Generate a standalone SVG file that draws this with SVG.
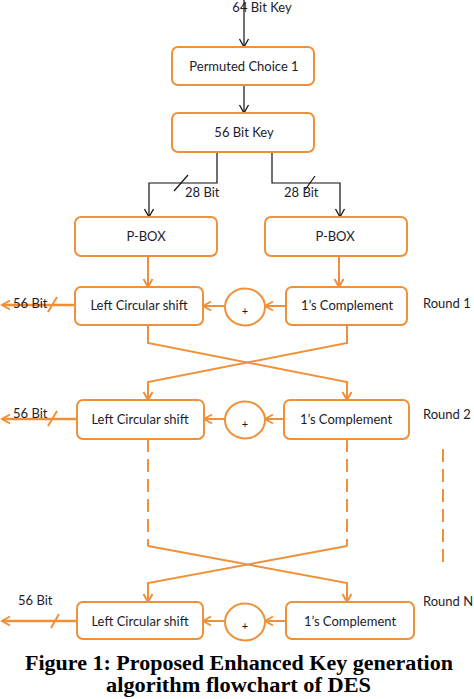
<svg xmlns="http://www.w3.org/2000/svg" width="474" height="699" viewBox="0 0 474 699">
<style>
.box{fill:#fff;stroke:#F0913A;stroke-width:2}
.lbl{font-family:Lato,"Open Sans","DejaVu Sans",sans-serif;font-size:13px;fill:#1c1c2a;text-anchor:middle;dominant-baseline:central}
.side{font-family:Lato,"Open Sans","DejaVu Sans",sans-serif;font-size:13px;fill:#1c1c2a;dominant-baseline:central}
.blk{fill:none;stroke:#111;stroke-width:1.2}
.org{fill:none;stroke:#F0913A;stroke-width:2}
.out{fill:none;stroke:#F0913A;stroke-width:2.6}
.dash{fill:none;stroke:#F0913A;stroke-width:2;stroke-dasharray:13 7}
.cap{font-family:"Liberation Serif","Times New Roman",serif;font-weight:bold;font-size:20.5px;fill:#000;text-anchor:middle}
</style>
<defs>
<marker id="ab" markerUnits="userSpaceOnUse" markerWidth="12" markerHeight="12" refX="9" refY="5" orient="auto" viewBox="0 0 12 10">
<path d="M1,0.5 L9,5 L1,9.5" fill="none" stroke="#111" stroke-width="1.3"/>
</marker>
<marker id="ao" markerUnits="userSpaceOnUse" markerWidth="12" markerHeight="12" refX="9" refY="5" orient="auto" viewBox="0 0 12 10">
<path d="M1,0.5 L9,5 L1,9.5" fill="none" stroke="#F0913A" stroke-width="2"/>
</marker>
</defs>

<g id="connectors">
<text class="lbl" x="262" y="7">64 Bit Key</text>
<line class="blk" x1="244" y1="0" x2="244" y2="47" marker-end="url(#ab)"/>
<line class="blk" x1="244" y1="85" x2="244" y2="113" marker-end="url(#ab)"/>
<polyline class="blk" points="217,152 217,183 149,183 149,217" marker-end="url(#ab)"/>
<polyline class="blk" points="272,152 272,183 340,183 340,217" marker-end="url(#ab)"/>
<line class="blk" x1="174" y1="191" x2="188" y2="175"/>
<line class="blk" x1="305" y1="190" x2="315" y2="176"/>
<text class="side" x="185" y="192">28 Bit</text>
<text class="side" x="284" y="192">28 Bit</text>

<line class="org" x1="148" y1="256" x2="148" y2="287" marker-end="url(#ao)"/>
<line class="org" x1="339" y1="256" x2="339" y2="287" marker-end="url(#ao)"/>

<line class="org" x1="286" y1="306" x2="265" y2="306" marker-end="url(#ao)"/>
<line class="org" x1="225" y1="306" x2="203" y2="306" marker-end="url(#ao)"/>
<line class="out" x1="75" y1="305" x2="2" y2="305" marker-end="url(#ao)"/>
<line class="org" x1="48" y1="312" x2="57" y2="297"/>
<text class="side" x="13" y="303">56 Bit</text>

<polyline class="org" points="148,325 148,343 347,382 347,400" marker-end="url(#ao)"/>
<polyline class="org" points="347,325 347,343 148,382 148,400" marker-end="url(#ao)"/>

<line class="org" x1="284" y1="419" x2="265" y2="419" marker-end="url(#ao)"/>
<line class="org" x1="225" y1="419" x2="204" y2="419" marker-end="url(#ao)"/>
<line class="out" x1="77" y1="419" x2="2" y2="419" marker-end="url(#ao)"/>
<line class="org" x1="48" y1="426" x2="57" y2="411"/>
<text class="side" x="13" y="413">56 Bit</text>

<line class="dash" x1="148" y1="439" x2="148" y2="546"/>
<line class="dash" x1="347" y1="439" x2="347" y2="546"/>
<polyline class="org" points="148,546 347,583 347,602" marker-end="url(#ao)"/>
<polyline class="org" points="347,546 148,583 148,602" marker-end="url(#ao)"/>
<line class="dash" x1="443" y1="449" x2="443" y2="563"/>

<line class="org" x1="286" y1="621" x2="265" y2="621" marker-end="url(#ao)"/>
<line class="org" x1="225" y1="621" x2="203" y2="621" marker-end="url(#ao)"/>
<line class="out" x1="77" y1="621" x2="2" y2="621" marker-end="url(#ao)"/>
<line class="org" x1="51" y1="628" x2="59" y2="614"/>
<text class="side" x="18" y="600">56 Bit</text>
</g>

<g id="pc1"><rect class="box" x="172" y="47" width="142" height="38" rx="6"/><text class="lbl" x="244" y="66">Permuted Choice 1</text></g>
<g id="key56"><rect class="box" x="172" y="113" width="142" height="39" rx="6"/><text class="lbl" x="244" y="132">56 Bit Key</text></g>
<g id="pbox-left"><rect class="box" x="75" y="217" width="142" height="39" rx="6"/><text class="lbl" x="146" y="236">P-BOX</text></g>
<g id="pbox-right"><rect class="box" x="265" y="217" width="142" height="39" rx="6"/><text class="lbl" x="335" y="236">P-BOX</text></g>

<g id="lcs-1"><rect class="box" x="75" y="287" width="128" height="38" rx="6"/><text class="lbl" x="139" y="305">Left Circular shift</text></g>
<g id="xor-1"><ellipse class="box" cx="245" cy="307" rx="20" ry="18.5"/><text class="lbl" x="245" y="310" style="font-size:11px">+</text></g>
<g id="comp-1"><rect class="box" x="286" y="287" width="121" height="38" rx="6"/><text class="lbl" x="347" y="305">1’s Complement</text></g>

<g id="lcs-2"><rect class="box" x="77" y="400" width="127" height="39" rx="6"/><text class="lbl" x="140" y="419">Left Circular shift</text></g>
<g id="xor-2"><ellipse class="box" cx="245" cy="420" rx="20" ry="18.5"/><text class="lbl" x="245" y="423" style="font-size:11px">+</text></g>
<g id="comp-2"><rect class="box" x="284" y="400" width="125" height="39" rx="6"/><text class="lbl" x="346" y="419">1’s Complement</text></g>

<g id="lcs-n"><rect class="box" x="77" y="602" width="126" height="37" rx="6"/><text class="lbl" x="140" y="621">Left Circular shift</text></g>
<g id="xor-n"><ellipse class="box" cx="245" cy="622" rx="20" ry="18.5"/><text class="lbl" x="245" y="625" style="font-size:11px">+</text></g>
<g id="comp-n"><rect class="box" x="286" y="602" width="128" height="37" rx="6"/><text class="lbl" x="350" y="621">1’s Complement</text></g>

<g id="rounds">
<text class="side" x="423" y="303">Round 1</text>
<text class="side" x="423" y="414">Round 2</text>
<text class="side" x="423" y="601">Round N</text>
</g>

<g id="caption">
<text class="cap" x="239" y="670" textLength="428" lengthAdjust="spacingAndGlyphs">Figure 1: Proposed Enhanced Key generation</text>
<text class="cap" x="238.5" y="692" textLength="265" lengthAdjust="spacingAndGlyphs">algorithm flowchart of DES</text>
</g>
</svg>
